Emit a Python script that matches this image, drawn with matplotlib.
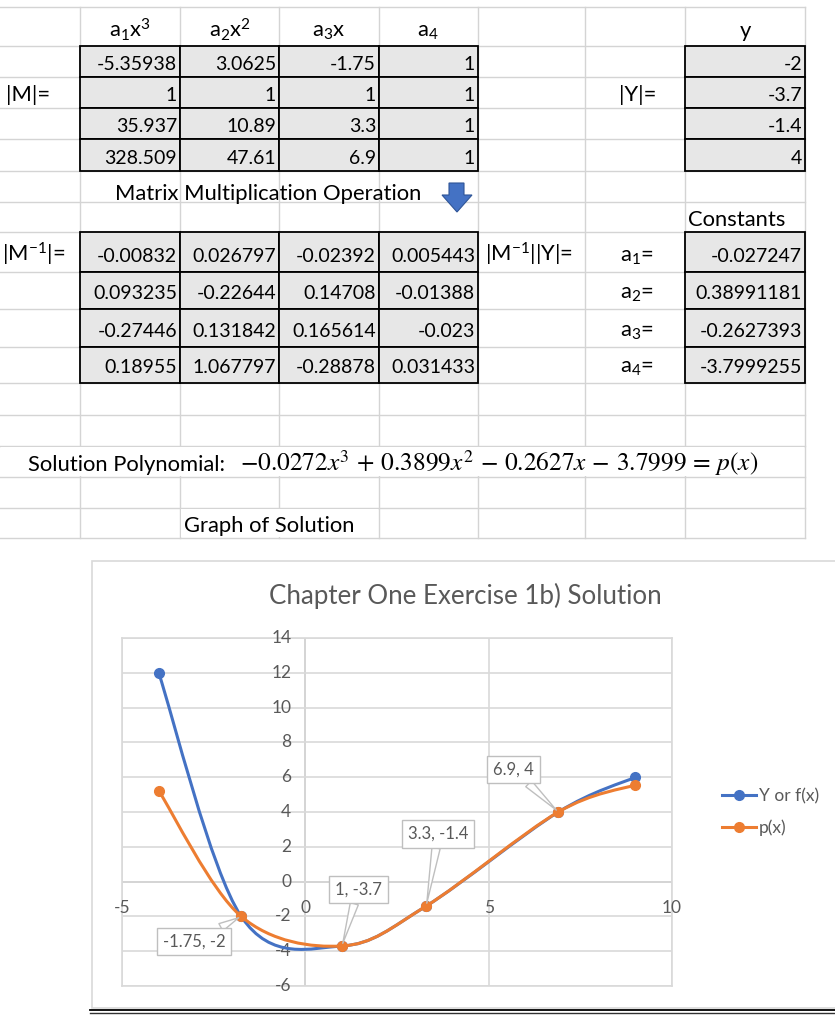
import matplotlib
matplotlib.use('Agg')
import matplotlib.pyplot as plt
from matplotlib.path import Path
from matplotlib.patches import PathPatch, Rectangle, Polygon
from matplotlib.lines import Line2D

plt.rcParams['font.family'] = ['Lato', 'DejaVu Sans']

# spreadsheet values (as shown in the cells)
m_headers = [r'$\mathregular{a_1x^3}$', r'$\mathregular{a_2x^2}$', r'$\mathregular{a_3x}$', r'$\mathregular{a_4}$']
m_rows = [['-5.35938', '3.0625', '-1.75', '1'],
          ['1', '1', '1', '1'],
          ['35.937', '10.89', '3.3', '1'],
          ['328.509', '47.61', '6.9', '1']]
y_vals = ['-2', '-3.7', '-1.4', '4']
minv_rows = [['-0.00832', '0.026797', '-0.02392', '0.005443'],
             ['0.093235', '-0.22644', '0.14708', '-0.01388'],
             ['-0.27446', '0.131842', '0.165614', '-0.023'],
             ['0.18955', '1.067797', '-0.28878', '0.031433']]
const_names = [r'$\mathregular{a_1}$=', r'$\mathregular{a_2}$=', r'$\mathregular{a_3}$=', r'$\mathregular{a_4}$=']
const_vals = ['-0.027247', '0.38991181', '-0.2627393', '-3.7999255']
poly_text = r'$-0.0272x^3\,+\,0.3899x^2\,-\,0.2627x\,-\,3.7999\,=\,p(x)$'

# chart data
x_pts = [-4, -1.75, 1, 3.3, 6.9, 9]
y_f = [12, -2, -3.7, -1.4, 4, 6]
y_p = [5.23, -2, -3.7, -1.4, 4, 5.56]
point_labels = ['-1.75, -2', '1, -3.7', '3.3, -1.4', '6.9, 4']
label_idx = [1, 2, 3, 4]
label_pos = [(-3.03, -3.45), (1.45, -0.45), (3.63, 2.75), (5.68, 6.45)]
x_ticks = [-5, 0, 5, 10]
y_ticks = [-6, -4, -2, 0, 2, 4, 6, 8, 10, 12, 14]

BLUE = '#4472C4'
ORANGE = '#ED7D31'
GRID = '#d9d9d9'
TXT = '#595959'
CELL = '#e7e7e7'

fig = plt.figure(figsize=(8.35, 10.24), dpi=100)
sh = fig.add_axes([0, 0, 1, 1])
sh.set_xlim(0, 835)
sh.set_ylim(1024, 0)
sh.axis('off')

# grid of the sheet
cols = [80, 180, 279, 379, 478, 585, 685, 805]
rows = [7, 46, 77, 108, 139, 171, 202, 232, 272, 309, 347, 383, 415, 446, 477, 508, 538]
for r in rows:
    sh.plot([0, 805], [r, r], color='#d4d4d4', lw=1, zorder=1)
for c in cols:
    sh.plot([c, c], [rows[0], rows[-1]], color='#d4d4d4', lw=1, zorder=1)
# rows where text/equation covers the gridlines
sh.add_patch(Rectangle((1, 447), 803, 29, fc='white', ec='none', zorder=1.5))
sh.add_patch(Rectangle((181, 509), 197, 28, fc='white', ec='none', zorder=1.5))

fs = 14    # numbers
fw = 15.8  # words


def block(x0, cols_w, r_edges, cells, off):
    for i, row in enumerate(cells):
        y0, y1 = r_edges[i], r_edges[i + 1]
        x = x0
        for w, val in zip(cols_w, row):
            sh.add_patch(Rectangle((x, y0), w, y1 - y0, fc=CELL, ec='black', lw=1.3, zorder=2))
            sh.text(x + w - 3, y1 - off, val, ha='right', va='baseline', fontsize=fs, zorder=3)
            x += w


m_w = [100, 99, 100, 99]
block(80, m_w, rows[1:6], m_rows, 7)
block(685, [120], rows[1:6], [[v] for v in y_vals], 7)
block(80, m_w, rows[7:12], minv_rows, 10)
block(685, [120], rows[7:12], [[v] for v in const_vals], 10)

for cx, h in zip([130, 230, 329, 428], m_headers):
    sh.text(cx, 37, h, ha='center', va='baseline', fontsize=fw)
sh.text(745, 37, 'y', ha='center', va='baseline', fontsize=fw)
sh.text(6, 101, '|M|=', ha='left', va='baseline', fontsize=fw)
sh.text(638, 101, '|Y|=', ha='center', va='baseline', fontsize=fw)
sh.text(115, 200, 'Matrix Multiplication Operation', ha='left', va='baseline', fontsize=fw)
sh.add_patch(Polygon([(449, 183), (464, 183), (464, 195), (472, 195), (457, 212), (442, 195), (449, 195)],
                     fc='#4472C4', ec='#2f5597', lw=0.8, zorder=3))
sh.text(688, 226, 'Constants', ha='left', va='baseline', fontsize=fw)
sh.text(2, 262, r'$\mathregular{|M^{-1}|}$=', ha='left', va='baseline', fontsize=fw)
sh.text(485, 262, r'$\mathregular{|M^{-1}||Y|}$=', ha='left', va='baseline', fontsize=fw)
for i, nm in enumerate(const_names):
    sh.text(620, rows[8 + i] - 10, nm, ha='left', va='baseline', fontsize=fw)
sh.text(28, 471, 'Solution Polynomial:', ha='left', va='baseline', fontsize=fw, zorder=3)
sh.text(240, 471, poly_text, ha='left', va='baseline', fontsize=18.3, math_fontfamily='stix', zorder=3)
sh.text(184, 532, 'Graph of Solution', ha='left', va='baseline', fontsize=fw, zorder=3)

# chart frame
sh.add_patch(Rectangle((92, 561), 760, 447, fc='white', ec=GRID, lw=1.2, zorder=1))
sh.plot([90, 835], [1010, 1010], color='black', lw=1.3)
sh.plot([90, 835], [1013, 1013], color='#333333', lw=1.0)
sh.text(465, 596, 'Chapter One Exercise 1b) Solution', ha='center', va='center', fontsize=18.6, color=TXT)

ax = fig.add_axes([122 / 835, 1 - 986 / 1024, 550 / 835, 348 / 1024])
ax.set_xlim(-5, 10)
ax.set_ylim(-6, 14)
ax.set_xticks(x_ticks)
ax.set_yticks(y_ticks)
ax.tick_params(length=0, labelbottom=False, labelleft=False)
ax.grid(True, color=GRID, lw=1.2)
for s in ax.spines.values():
    s.set_color(GRID)
    s.set_linewidth(1.2)
ax.set_facecolor('none')
ax.axhline(0, color='#bfbfbf', lw=1.3, zorder=1.5)
ax.axvline(0, color='#bfbfbf', lw=1.3, zorder=1.5)
for xt in x_ticks:
    ax.annotate(str(xt), (xt, 0), xytext=(0, -26), textcoords='offset pixels',
                ha='center', va='center', fontsize=12.5, color=TXT, annotation_clip=False)
for yt in y_ticks:
    ax.annotate(str(yt), (0, yt), xytext=(-14, 0), textcoords='offset pixels',
                ha='right', va='center', fontsize=12.5, color=TXT, annotation_clip=False)


def smooth(xs, ys):
    # excel-like smoothed line: catmull-rom segments as cubic beziers
    pts = list(zip(xs, ys))
    verts = [pts[0]]
    codes = [Path.MOVETO]
    n = len(pts)
    for i in range(n - 1):
        p0 = pts[i - 1] if i > 0 else pts[i]
        p1 = pts[i]
        p2 = pts[i + 1]
        p3 = pts[i + 2] if i + 2 < n else pts[i + 1]
        c1 = (p1[0] + (p2[0] - p0[0]) / 6, p1[1] + (p2[1] - p0[1]) / 6)
        c2 = (p2[0] - (p3[0] - p1[0]) / 6, p2[1] - (p3[1] - p1[1]) / 6)
        verts += [c1, c2, p2]
        codes += [Path.CURVE4] * 3
    return Path(verts, codes)


ax.add_patch(PathPatch(smooth(x_pts, y_f), fc='none', ec=BLUE, lw=2.2, zorder=3, clip_on=False))
ax.plot(x_pts, y_f, 'o', color=BLUE, ms=7, zorder=3.5, clip_on=False)
ax.add_patch(PathPatch(smooth(x_pts, y_p), fc='none', ec=ORANGE, lw=2.2, zorder=4, clip_on=False))
ax.plot(x_pts, y_p, 'o', color=ORANGE, ms=7, zorder=4.5, clip_on=False)

for lbl, i, pos in zip(point_labels, label_idx, label_pos):
    ax.annotate(lbl, (x_pts[i], y_p[i]), xytext=pos, ha='center', va='center', fontsize=12, color=TXT,
                bbox=dict(boxstyle='square,pad=0.35', fc='white', ec='#bfbfbf', lw=1),
                arrowprops=dict(arrowstyle='wedge,tail_width=0.5,shrink_factor=0.5', fc='white', ec='#bfbfbf', lw=1,
                                shrinkA=0, shrinkB=2),
                zorder=6)

handles = [Line2D([], [], color=BLUE, lw=2.2, marker='o', ms=7),
           Line2D([], [], color=ORANGE, lw=2.2, marker='o', ms=7)]
fig.legend(handles, ['Y or f(x)', 'p(x)'], loc='center left', bbox_to_anchor=(706 / 835, 1 - 812 / 1024),
           frameon=False, fontsize=12.5, handlelength=2.0, handletextpad=0.15, labelspacing=0.85,
           labelcolor=TXT)

fig.savefig('out.png', dpi=100)
